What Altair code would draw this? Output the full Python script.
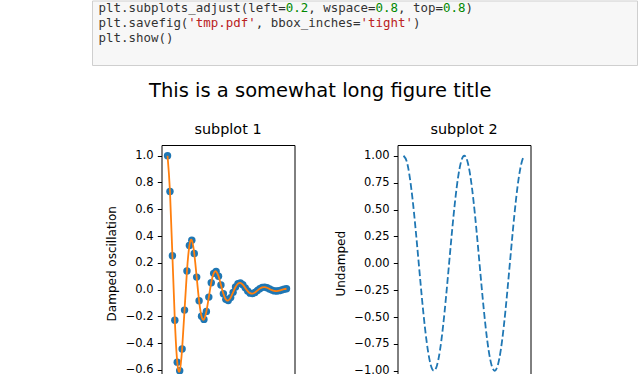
import re
import pandas as pd
import altair as alt

# ---------------- data ----------------
# subplot 1 : damped oscillation samples (blue dots, orange curve)
t1 = [0.0, 0.1, 0.2, 0.3, 0.4, 0.5, 0.6, 0.7, 0.8, 0.9,
      1.0, 1.1, 1.2, 1.3, 1.4, 1.5, 1.6, 1.7, 1.8, 1.9,
      2.0, 2.1, 2.2, 2.3, 2.4, 2.5, 2.6, 2.7, 2.8, 2.9,
      3.0, 3.1, 3.2, 3.3, 3.4, 3.5, 3.6, 3.7, 3.8, 3.9,
      4.0, 4.1, 4.2, 4.3, 4.4, 4.5, 4.6, 4.7, 4.8, 4.9]
y1 = [1.0, 0.732, 0.253, -0.2289, -0.5423, -0.6065, -0.444, -0.1535, 0.1389, 0.3289,
      0.3679, 0.2693, 0.0931, -0.0842, -0.1995, -0.2231, -0.1633, -0.0565, 0.0511, 0.121,
      0.1353, 0.0991, 0.0342, -0.031, -0.0734, -0.0821, -0.0601, -0.0208, 0.0188, 0.0445,
      0.0498, 0.0364, 0.0126, -0.0114, -0.027, -0.0302, -0.0221, -0.0076, 0.0069, 0.0164,
      0.0183, 0.0134, 0.0046, -0.0042, -0.0099, -0.0111, -0.0081, -0.0028, 0.0025, 0.006]

# subplot 2 : undamped (dashed curve)
t3 = [0.0, 0.05, 0.1, 0.15, 0.2, 0.25, 0.3, 0.35, 0.4, 0.45,
      0.5, 0.55, 0.6, 0.65, 0.7, 0.75, 0.8, 0.85, 0.9, 0.95,
      1.0, 1.05, 1.1, 1.15, 1.2, 1.25, 1.3, 1.35, 1.4, 1.45,
      1.5, 1.55, 1.6, 1.65, 1.7, 1.75, 1.8, 1.85, 1.9, 1.95, 1.99]
y3 = [1.0, 0.9511, 0.809, 0.5878, 0.309, 0.0, -0.309, -0.5878, -0.809, -0.9511,
      -1.0, -0.9511, -0.809, -0.5878, -0.309, 0.0, 0.309, 0.5878, 0.809, 0.9511,
      1.0, 0.9511, 0.809, 0.5878, 0.309, 0.0, -0.309, -0.5878, -0.809, -0.9511,
      -1.0, -0.9511, -0.809, -0.5878, -0.309, 0.0, 0.309, 0.5878, 0.809, 0.9511, 0.998]

y1_ticks = [-0.6, -0.4, -0.2, 0.0, 0.2, 0.4, 0.6, 0.8, 1.0]
x1_ticks = [0, 1, 2, 3, 4, 5]
y2_ticks = [-1.0, -0.75, -0.5, -0.25, 0.0, 0.25, 0.5, 0.75, 1.0]
x2_ticks = [0.0, 0.5, 1.0, 1.5, 2.0]

suptitle = "This is a somewhat long figure title"
titles = ["subplot 1", "subplot 2"]
ylabels = ["Damped oscillation", "Undamped"]

code_lines = [
    "plt.subplots_adjust(left=0.2, wspace=0.8, top=0.8)",
    "plt.savefig('tmp.pdf', bbox_inches='tight')",
    "plt.show()",
]

# ---------------- styling ----------------
FONT = "DejaVu Sans"
MONO = "DejaVu Sans Mono"
BLUE = "#1f77b4"
ORANGE = "#ff7f0e"
CODE_SIZE = 12.44
CHAR_W = CODE_SIZE * 0.602

# tokens of the code cell (for syntax colours)
rows = []
for li, line in enumerate(code_lines):
    for m in re.finditer(r"'[^']*'|\d+(?:\.\d+)?|=|[^\s'=]+", line):
        tok = m.group(0)
        if tok.startswith("'"):
            kind = "str"
        elif re.fullmatch(r"\d+(?:\.\d+)?", tok):
            kind = "num"
        elif tok == "=":
            kind = "op"
        else:
            kind = "name"
        rows.append({"line": li, "col": m.start(), "tok": tok, "kind": kind})
code_df = pd.DataFrame(rows)

one = pd.DataFrame({"a": [0]})

# ---------------- annotation panel (code cell + figure title) ----------------
# this panel sits after subplot 2 in the row; its pieces are placed relative to it
box = alt.Chart(one).mark_rect(fill="#f7f7f7", stroke="#cfcfcf", strokeWidth=1).encode(
    x=alt.value(-541), x2=alt.value(4), y=alt.value(-144), y2=alt.value(-79.5)
)
code = alt.Chart(code_df).mark_text(
    font=MONO, fontSize=CODE_SIZE, align="left", baseline="alphabetic"
).encode(
    x=alt.X("col:Q", scale=alt.Scale(domain=[0, 1], range=[-535, -535 + CHAR_W]), axis=None),
    y=alt.Y("line:Q", scale=alt.Scale(domain=[0, 2], range=[-133.5, -103.5]), axis=None),
    text="tok:N",
    color=alt.Color("kind:N", scale=alt.Scale(domain=["name", "op", "num", "str"],
                                              range=["#333333", "#333333", "#008800", "#ba2121"]),
                    legend=None),
)
sup = alt.Chart(one).mark_text(
    text=suptitle, font=FONT, fontSize=19.5, color="black", align="center", baseline="alphabetic"
).encode(x=alt.value(-313.3), y=alt.value(-47.8))

annot = alt.layer(box, code, sup).properties(
    width=1, height=1, view=alt.ViewBackground(stroke="transparent")
)

# ---------------- subplot 1 ----------------
df1 = pd.DataFrame({"t": t1, "y": y1})
X1 = alt.X("t:Q", scale=alt.Scale(domain=[-0.249, 5.229], nice=False, zero=False),
           axis=alt.Axis(values=x1_ticks, labels=False, title=None))
Y1 = alt.Y("y:Q", scale=alt.Scale(domain=[-0.687, 1.080], nice=False, zero=False),
           axis=alt.Axis(values=y1_ticks, format=".1f", title=ylabels[0]))
pts = alt.Chart(df1).mark_circle(size=55, color=BLUE, opacity=1).encode(x=X1, y=Y1)
crv = alt.Chart(df1).mark_line(color=ORANGE, strokeWidth=1.8, interpolate="natural").encode(x=X1, y=Y1)
p1 = alt.layer(pts, crv).properties(width=133, height=236.5, title=titles[0])

# ---------------- subplot 2 ----------------
df2 = pd.DataFrame({"t": t3, "y": y3})
X2 = alt.X("t:Q", scale=alt.Scale(domain=[-0.0995, 2.0895], nice=False, zero=False),
           axis=alt.Axis(values=x2_ticks, labels=False, title=None))
Y2 = alt.Y("y:Q", scale=alt.Scale(domain=[-1.1, 1.1], nice=False, zero=False),
           axis=alt.Axis(values=y2_ticks, format=".2f", title=ylabels[1]))
p2 = alt.Chart(df2).mark_line(
    color=BLUE, strokeWidth=1.8, strokeDash=[6.7, 2.9], interpolate="natural"
).encode(x=X2, y=Y2).properties(width=133, height=236.5, title=titles[1])

chart = alt.hconcat(p1, p2, annot, spacing=103, bounds="flush").properties(
    padding={"left": 91.5, "top": 0, "right": 0, "bottom": 0},
    background="white",
).configure_view(
    stroke="black", strokeWidth=1
).configure_axis(
    domain=False, grid=False, tickColor="black", tickSize=4.2, tickWidth=1,
    labelFont=FONT, labelFontSize=11.5, labelColor="black", labelPadding=4.2,
    titleFont=FONT, titleFontSize=12, titleFontWeight="normal", titleColor="black",
    titlePadding=6.5,
).configure_title(
    font=FONT, fontSize=14.4, fontWeight="normal", color="black", offset=7.2,
    baseline="alphabetic", frame="group", anchor="middle",
)

chart.save("out.html", embed_options={"renderer": "svg", "actions": False})
